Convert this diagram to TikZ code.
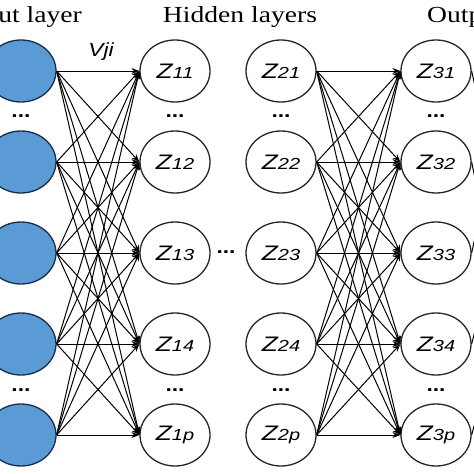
\documentclass[tikz,border=0pt]{standalone}
\usepackage{fontspec}
\usepackage{graphicx}
\setmainfont{Liberation Serif}
\newfontfamily\zsans{Liberation Sans}
\usetikzlibrary{shapes.geometric,arrows.meta}
\definecolor{nodeblue}{RGB}{91,155,213}
\definecolor{nodeedge}{RGB}{25,45,75}
\newcommand\ttltext[1]{\scalebox{1.2}[1]{\fontsize{23}{23}\selectfont #1}}
\newcommand\zlab[2]{\scalebox{1.25}[1]{\zsans\itshape\fontsize{21}{21}\selectfont Z\fontsize{16}{16}\selectfont #1#2}}
\newcommand\dotstext{\scalebox{1.2}[1]{\zsans\bfseries\fontsize{19}{19}\selectfont ...}}
\begin{document}
\begin{tikzpicture}[x=1pt,y=-1pt,
 neuron/.style={ellipse,line width=1.3pt,minimum width=70pt,minimum height=62pt,inner sep=0pt},
 inneuron/.style={neuron,fill=nodeblue,draw=nodeedge},
 hidneuron/.style={neuron,draw=black!85,fill=white},
 conn/.style={line width=1pt,-{Stealth[length=8pt,width=6pt]}},
 stub/.style={line width=1pt},
 title/.style={inner sep=0pt,anchor=base},
 dotslab/.style={inner sep=0pt}]
\clip (0,0) rectangle (474,474);
\fill[white] (0,0) rectangle (474,474);
% titles
\node[title,anchor=base east] (tin) at (82,22) {\ttltext{Input layer}};
\node[title] (thid) at (240,22) {\ttltext{Hidden layers}};
\node[title,anchor=base west] (tout) at (427,22) {\ttltext{Output layer}};
% neurons
\foreach \i/\y/\l in {1/71/1,2/162/2,3/253/3,4/344/4,5/435/p}{
  \node[inneuron] (a\i) at (21,\y) {};
  \node[hidneuron] (b\i) at (175,\y) {\zlab{1}{\l}};
  \node[hidneuron] (c\i) at (281,\y) {\zlab{2}{\l}};
  \node[hidneuron] (d\i) at (436,\y) {\zlab{3}{\l}};
}
% vertical dots
\foreach \x/\n in {21/a,175/b,281/c,436/d}{
  \node[dotslab] (\n dt) at (\x,116) {\dotstext};
  \node[dotslab] (\n db) at (\x,390) {\dotstext};
}
\node[dotslab] (hdots) at (226,252) {\dotstext};
% weight label
\node[inner sep=0pt] (vji) at (101,52) {\scalebox{1.2}[1]{\zsans\itshape\fontsize{19}{19}\selectfont Vji}};
% connections
\foreach \i in {1,...,5}{
  \foreach \j in {1,...,5}{
    \draw[conn] (a\i.east) -- (b\j.west);
    \draw[conn] (c\i.east) -- (d\j.west);
  }
}
% partial connections toward the cropped output layer
\coordinate (o1) at (500,200);
\coordinate (o2) at (500,300);
\coordinate (o3) at (500,120);
\coordinate (o4) at (500,230);
\coordinate (o5) at (500,330);
\foreach \i in {1,...,5}{
  \draw[stub] (d\i.east) -- (o\i);
}
\end{tikzpicture}
\end{document}
